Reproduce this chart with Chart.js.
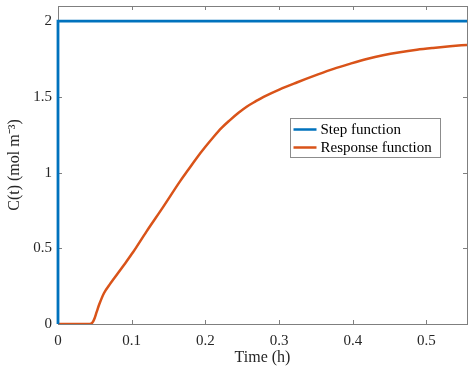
<!DOCTYPE html>
<html>
<head>
<meta charset="utf-8">
<script src="https://cdn.jsdelivr.net/npm/chart.js@4.4.1/dist/chart.umd.min.js"></script>
<style>
  html, body { margin: 0; padding: 0; background: #fff; }
  #wrap { width: 474px; height: 372px; position: relative; }
</style>
</head>
<body>
<div id="wrap"><canvas id="c"></canvas></div>
<script>
// values
const stepX = [0, 0, 0.555];
const stepY = [0, 2, 2];
const respX = [0, 0.043, 0.0465, 0.049, 0.0525, 0.056, 0.0625, 0.070, 0.076, 0.0895, 0.102, 0.120, 0.143, 0.166, 0.177, 0.188, 0.200, 0.211, 0.222, 0.233, 0.245, 0.256, 0.268, 0.279, 0.301, 0.324, 0.351, 0.374, 0.396, 0.419, 0.441, 0.464, 0.487, 0.509, 0.532, 0.555];
const respY = [0, 0, 0.008, 0.03, 0.08, 0.13, 0.205, 0.26, 0.30, 0.39, 0.475, 0.61, 0.775, 0.945, 1.02, 1.095, 1.17, 1.235, 1.295, 1.345, 1.395, 1.435, 1.47, 1.50, 1.55, 1.595, 1.645, 1.685, 1.718, 1.750, 1.775, 1.795, 1.811, 1.823, 1.834, 1.843];
const xTicks = [0, 0.1, 0.2, 0.3, 0.4, 0.5];
const yTicks = [0, 0.5, 1, 1.5, 2];
const labels = ['Step function', 'Response function'];

const serif = '"Liberation Serif", "Times New Roman", serif';
const axisGray = '#7f7f7f';
const textCol = '#262626';

function pts(xs, ys) { return xs.map((x, i) => ({ x: x, y: ys[i] })); }
function fmt(v) { return v === 0 ? '0' : String(v); }

// box + inward ticks on all four sides (under the lines), legend box on top
const matlabAxes = {
  id: 'matlabAxes',
  beforeDatasetsDraw(chart) {
    const ctx = chart.ctx;
    const a = chart.chartArea;
    const xs = chart.scales.x, ys = chart.scales.y;
    const tl = 4;
    ctx.save();
    ctx.strokeStyle = axisGray;
    ctx.lineWidth = 1;
    ctx.beginPath();
    xTicks.forEach(v => {
      const px = Math.round(xs.getPixelForValue(v)) + 0.5;
      ctx.moveTo(px, a.bottom); ctx.lineTo(px, a.bottom - tl);
      ctx.moveTo(px, a.top); ctx.lineTo(px, a.top + tl);
    });
    yTicks.forEach(v => {
      const py = Math.round(ys.getPixelForValue(v)) + 0.5;
      ctx.moveTo(a.left, py); ctx.lineTo(a.left + tl, py);
      ctx.moveTo(a.right, py); ctx.lineTo(a.right - tl, py);
    });
    ctx.stroke();
    ctx.strokeRect(Math.round(a.left) + 0.5, Math.round(a.top) + 0.5, Math.round(a.right - a.left), Math.round(a.bottom - a.top));
    ctx.restore();
  },
  afterDraw(chart) {
    const ctx = chart.ctx;
    const lx = 290.5, ly = 118.5, lw = 150, lh = 39;
    ctx.save();
    ctx.fillStyle = '#fff';
    ctx.fillRect(lx, ly, lw, lh);
    ctx.strokeStyle = '#8c8c8c';
    ctx.lineWidth = 1;
    ctx.strokeRect(lx, ly, lw, lh);
    ctx.font = '15px ' + serif;
    ctx.textBaseline = 'middle';
    chart.data.datasets.forEach((ds, i) => {
      const cy = ly + 11 + i * 18;
      ctx.strokeStyle = ds.borderColor;
      ctx.lineWidth = 2.5;
      ctx.beginPath();
      ctx.moveTo(lx + 3, cy); ctx.lineTo(lx + 26, cy);
      ctx.stroke();
      ctx.fillStyle = '#000';
      ctx.fillText(ds.label, lx + 30, cy + 1);
    });
    ctx.restore();
  }
};

new Chart(document.getElementById('c'), {
  type: 'scatter',
  data: {
    datasets: [
      { label: labels[0], data: pts(stepX, stepY), showLine: true, borderColor: '#0072BD', borderWidth: 2.8, pointRadius: 0, tension: 0, clip: 4 },
      { label: labels[1], data: pts(respX, respY), showLine: true, borderColor: '#D95319', borderWidth: 2.5, pointRadius: 0, cubicInterpolationMode: 'monotone' }
    ]
  },
  options: {
    responsive: true,
    maintainAspectRatio: false,
    animation: false,
    layout: { padding: { left: 0, top: 6, right: 7, bottom: 0 } },
    plugins: { legend: { display: false }, tooltip: { enabled: false } },
    scales: {
      x: {
        type: 'linear', min: 0, max: 0.555,
        afterBuildTicks: s => { s.ticks = xTicks.map(v => ({ value: v })); },
        afterFit: s => { s.height = 48; s.paddingLeft = 0; s.paddingRight = 0; },
        grid: { display: false, drawTicks: false },
        border: { display: false },
        ticks: { color: textCol, font: { family: serif, size: 15 }, padding: 8, maxRotation: 0, callback: v => fmt(v) },
        title: { display: true, text: 'Time (h)', color: textCol, font: { family: serif, size: 16 }, padding: { top: 0, bottom: 5 } }
      },
      y: {
        type: 'linear', min: 0, max: 2.1,
        afterBuildTicks: s => { s.ticks = yTicks.map(v => ({ value: v })); },
        afterFit: s => { s.width = 58; s.paddingTop = 0; s.paddingBottom = 0; },
        grid: { display: false, drawTicks: false },
        border: { display: false },
        ticks: { color: textCol, font: { family: serif, size: 15 }, padding: 6, callback: v => fmt(v) },
        title: { display: true, text: 'C(t) (mol m⁻³)', color: textCol, font: { family: serif, size: 16 }, padding: { top: 5, bottom: 0 } }
      }
    }
  },
  plugins: [matlabAxes]
});
</script>
</body>
</html>
